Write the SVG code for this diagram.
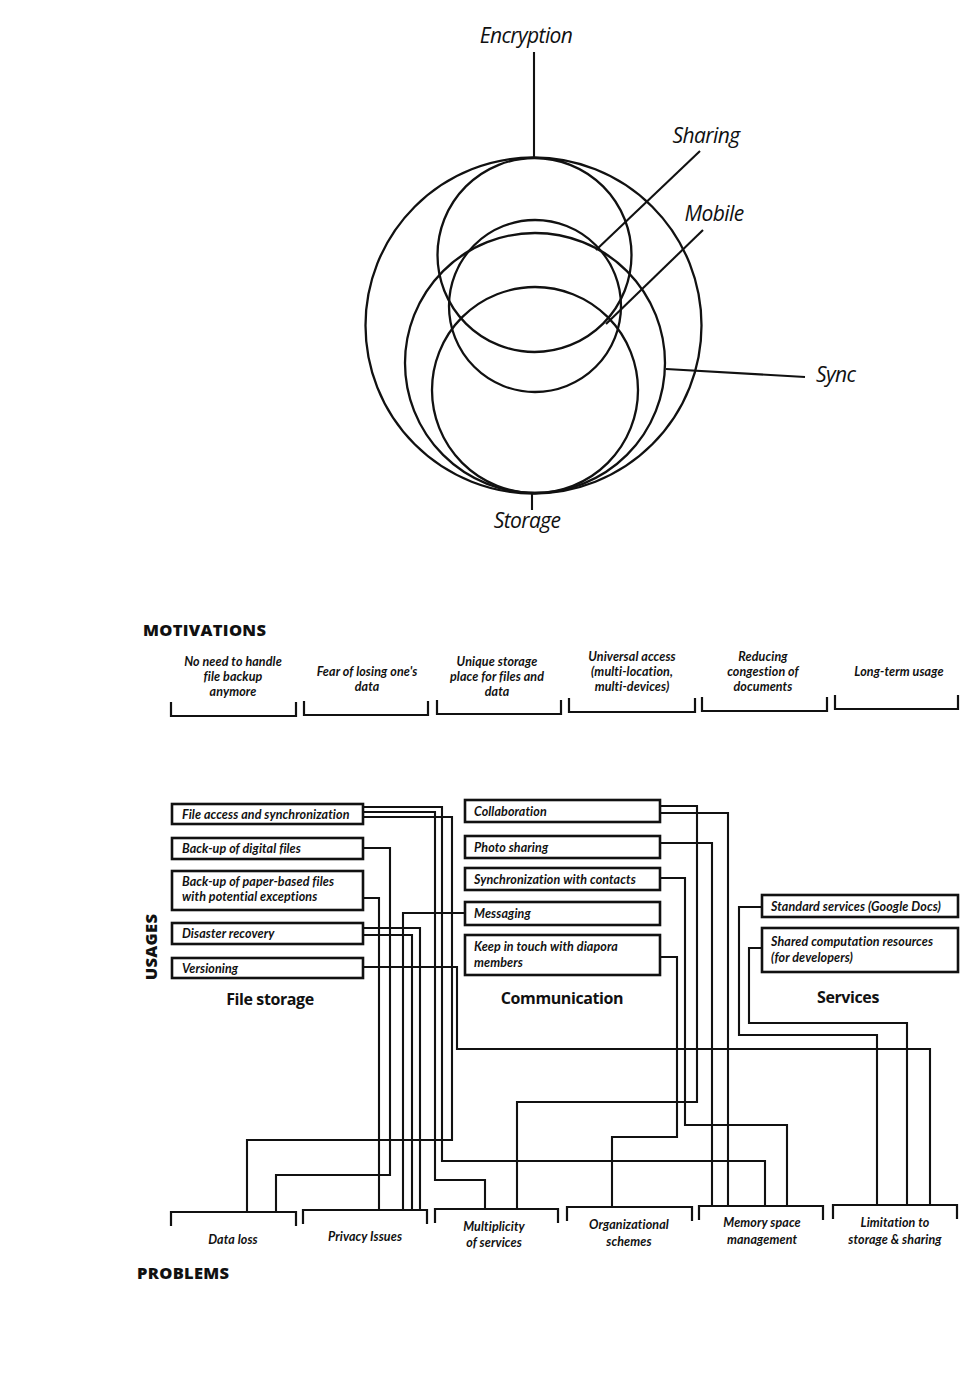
<svg xmlns="http://www.w3.org/2000/svg" width="964" height="1387" viewBox="0 0 964 1387">
  <style>
    .ring { fill: none; stroke: #111; stroke-width: 2.3; }
    .lead { fill: none; stroke: #111; stroke-width: 2.1; }
    .topLabel { font-family: "Open Sans", "DejaVu Sans", sans-serif; font-style: italic; font-size: 21px; font-weight: 500; fill: #111; letter-spacing: -0.6px; }
    .heading { font-family: "Open Sans", "DejaVu Sans", sans-serif; font-weight: 800; font-size: 16.5px; fill: #111; letter-spacing: 0.3px; }
    .group { font-family: "Open Sans", "DejaVu Sans", sans-serif; font-weight: 700; font-size: 16px; fill: #111; letter-spacing: -0.4px; text-anchor: middle; }
    .small { font-family: Lato, "Open Sans", "DejaVu Sans", sans-serif; font-style: italic; font-weight: 700; font-size: 12.5px; fill: #111; letter-spacing: 0.1px; }
    .mid { text-anchor: middle; }
    .box { fill: #fff; stroke: #111; stroke-width: 2.6; }
    .bracket { fill: none; stroke: #111; stroke-width: 2.2; }
    .wire { fill: none; stroke: #111; stroke-width: 2.1; stroke-linejoin: miter; }
  </style>

  <rect width="964" height="1387" fill="#fff"/>

  <!-- Nested feature rings, all touching at the bottom -->
  <g id="features">
    <g id="sync">
      <circle class="ring" cx="533.5" cy="325.5" r="168"/>
    </g>
    <g id="encryption">
      <circle class="ring" cx="534.5" cy="255" r="97"/>
      <line class="lead" x1="534" y1="52" x2="534" y2="158"/>
      <text class="topLabel mid" x="526" y="43">Encryption</text>
    </g>
    <g id="sharing">
      <circle class="ring" cx="535" cy="306" r="86"/>
      <line class="lead" x1="700" y1="151" x2="596" y2="250"/>
      <text class="topLabel mid" x="706" y="143">Sharing</text>
    </g>
    <g id="mobile">
      <circle class="ring" cx="535" cy="363" r="130"/>
      <line class="lead" x1="703" y1="230" x2="606" y2="324"/>
      <text class="topLabel mid" x="714" y="221">Mobile</text>
    </g>
    <g id="storage">
      <circle class="ring" cx="535" cy="390" r="103"/>
      <line class="lead" x1="532" y1="493" x2="532" y2="510"/>
      <text class="topLabel mid" x="527" y="528">Storage</text>
    </g>
    <g id="sync-lead">
      <line class="lead" x1="666" y1="369" x2="805" y2="377"/>
      <text class="topLabel" x="816" y="382">Sync</text>
    </g>
  </g>

  <!-- Motivations -->
  <g id="motivations">
    <text class="heading" x="143" y="636">MOTIVATIONS</text>
    <g id="mot-backup">
      <path class="bracket" d="M171,702 V716 H296 V702"/>
      <text class="small mid"><tspan x="233" y="666">No need to handle</tspan><tspan x="233" y="681">file backup</tspan><tspan x="233" y="696">anymore</tspan></text>
    </g>
    <g id="mot-fear">
      <path class="bracket" d="M304,701 V715 H428 V701"/>
      <text class="small mid"><tspan x="367" y="676">Fear of losing one's</tspan><tspan x="367" y="691">data</tspan></text>
    </g>
    <g id="mot-unique">
      <path class="bracket" d="M437,700 V714 H561 V700"/>
      <text class="small mid"><tspan x="497" y="666">Unique storage</tspan><tspan x="497" y="681">place for files and</tspan><tspan x="497" y="696">data</tspan></text>
    </g>
    <g id="mot-universal">
      <path class="bracket" d="M569,698 V712 H695 V698"/>
      <text class="small mid"><tspan x="632" y="661">Universal access</tspan><tspan x="632" y="676">(multi-location,</tspan><tspan x="632" y="691">multi-devices)</tspan></text>
    </g>
    <g id="mot-congestion">
      <path class="bracket" d="M702,697 V711 H827 V697"/>
      <text class="small mid"><tspan x="763" y="661">Reducing</tspan><tspan x="763" y="676">congestion of</tspan><tspan x="763" y="691">documents</tspan></text>
    </g>
    <g id="mot-longterm">
      <path class="bracket" d="M835,695 V709 H958 V695"/>
      <text class="small mid" x="899" y="676">Long-term usage</text>
    </g>
  </g>

  <!-- Connectors from usages down to problems -->
  <g id="connectors">
    <path class="wire" d="M363,817 H452 V1140 H247 V1212"/>
    <path class="wire" d="M363,812 H435 V1180 H485 V1209"/>
    <path class="wire" d="M363,807 H442 V1161 H765 V1206"/>
    <path class="wire" d="M363,848 H390 V1175 H276 V1212"/>
    <path class="wire" d="M363,898 H379 V1211"/>
    <path class="wire" d="M363,928 H420 V1210"/>
    <path class="wire" d="M363,935 H412 V1210"/>
    <path class="wire" d="M363,967 H457 V1049 H930 V1205"/>
    <path class="wire" d="M465,913 H403 V1210"/>
    <path class="wire" d="M660,806 H697 V1102 H517 V1209"/>
    <path class="wire" d="M660,813 H728 V1206"/>
    <path class="wire" d="M660,843 H712 V1206"/>
    <path class="wire" d="M660,878 H685 V1125 H787 V1206"/>
    <path class="wire" d="M660,957 H677 V1137 H612 V1207"/>
    <path class="wire" d="M762,907 H739 V1035 H877 V1205"/>
    <path class="wire" d="M762,948 H749 V1023 H907 V1205"/>
  </g>

  <!-- Usages -->
  <g id="usages">
    <text class="heading" transform="translate(157,947) rotate(-90)" text-anchor="middle">USAGES</text>

    <g id="file-storage">
      <g id="u-file-access">
        <rect class="box" x="172" y="804" width="191" height="20"/>
        <text class="small" x="182" y="818.5">File access and synchronization</text>
      </g>
      <g id="u-backup-digital">
        <rect class="box" x="172" y="838" width="191" height="21"/>
        <text class="small" x="182" y="853">Back-up of digital files</text>
      </g>
      <g id="u-backup-paper">
        <rect class="box" x="172" y="871" width="191" height="39"/>
        <text class="small"><tspan x="182" y="886">Back-up of paper-based files</tspan><tspan x="182" y="901">with potential exceptions</tspan></text>
      </g>
      <g id="u-disaster">
        <rect class="box" x="172" y="923" width="191" height="21"/>
        <text class="small" x="182" y="938">Disaster recovery</text>
      </g>
      <g id="u-versioning">
        <rect class="box" x="172" y="958" width="191" height="20"/>
        <text class="small" x="182" y="972.5">Versioning</text>
      </g>
      <text class="group" x="270" y="1005">File storage</text>
    </g>

    <g id="communication">
      <g id="u-collaboration">
        <rect class="box" x="465" y="800" width="195" height="22"/>
        <text class="small" x="474" y="815.5">Collaboration</text>
      </g>
      <g id="u-photo">
        <rect class="box" x="465" y="836" width="195" height="22"/>
        <text class="small" x="474" y="851.5">Photo sharing</text>
      </g>
      <g id="u-sync-contacts">
        <rect class="box" x="465" y="868" width="195" height="22"/>
        <text class="small" x="474" y="883.5">Synchronization with contacts</text>
      </g>
      <g id="u-messaging">
        <rect class="box" x="465" y="902" width="195" height="23"/>
        <text class="small" x="474" y="918">Messaging</text>
      </g>
      <g id="u-diaspora">
        <rect class="box" x="465" y="935" width="195" height="40"/>
        <text class="small"><tspan x="474" y="951">Keep in touch with diapora</tspan><tspan x="474" y="967">members</tspan></text>
      </g>
      <text class="group" x="562" y="1004">Communication</text>
    </g>

    <g id="services">
      <g id="u-standard">
        <rect class="box" x="762" y="895" width="196" height="22"/>
        <text class="small" x="771" y="910.5">Standard services (Google Docs)</text>
      </g>
      <g id="u-computation">
        <rect class="box" x="762" y="928" width="196" height="44"/>
        <text class="small"><tspan x="771" y="946">Shared computation resources</tspan><tspan x="771" y="962">(for developers)</tspan></text>
      </g>
      <text class="group" x="848" y="1003">Services</text>
    </g>
  </g>

  <!-- Problems -->
  <g id="problems">
    <g id="p-data-loss">
      <path class="bracket" d="M171,1226 V1212 H296 V1226"/>
      <text class="small mid" x="233" y="1244">Data loss</text>
    </g>
    <g id="p-privacy">
      <path class="bracket" d="M303,1224 V1210 H427 V1224"/>
      <text class="small mid" x="365" y="1241">Privacy Issues</text>
    </g>
    <g id="p-multiplicity">
      <path class="bracket" d="M435,1223 V1209 H558 V1223"/>
      <text class="small mid"><tspan x="494" y="1231">Multiplicity</tspan><tspan x="494" y="1247">of services</tspan></text>
    </g>
    <g id="p-organizational">
      <path class="bracket" d="M567,1221 V1207 H692 V1221"/>
      <text class="small mid"><tspan x="629" y="1229">Organizational</tspan><tspan x="629" y="1246">schemes</tspan></text>
    </g>
    <g id="p-memory">
      <path class="bracket" d="M699,1220 V1206 H823 V1220"/>
      <text class="small mid"><tspan x="762" y="1227">Memory space</tspan><tspan x="762" y="1244">management</tspan></text>
    </g>
    <g id="p-limitation">
      <path class="bracket" d="M833,1219 V1205 H957 V1219"/>
      <text class="small mid"><tspan x="895" y="1227">Limitation to</tspan><tspan x="895" y="1244">storage &amp; sharing</tspan></text>
    </g>
    <text class="heading" x="137" y="1279">PROBLEMS</text>
  </g>
</svg>
